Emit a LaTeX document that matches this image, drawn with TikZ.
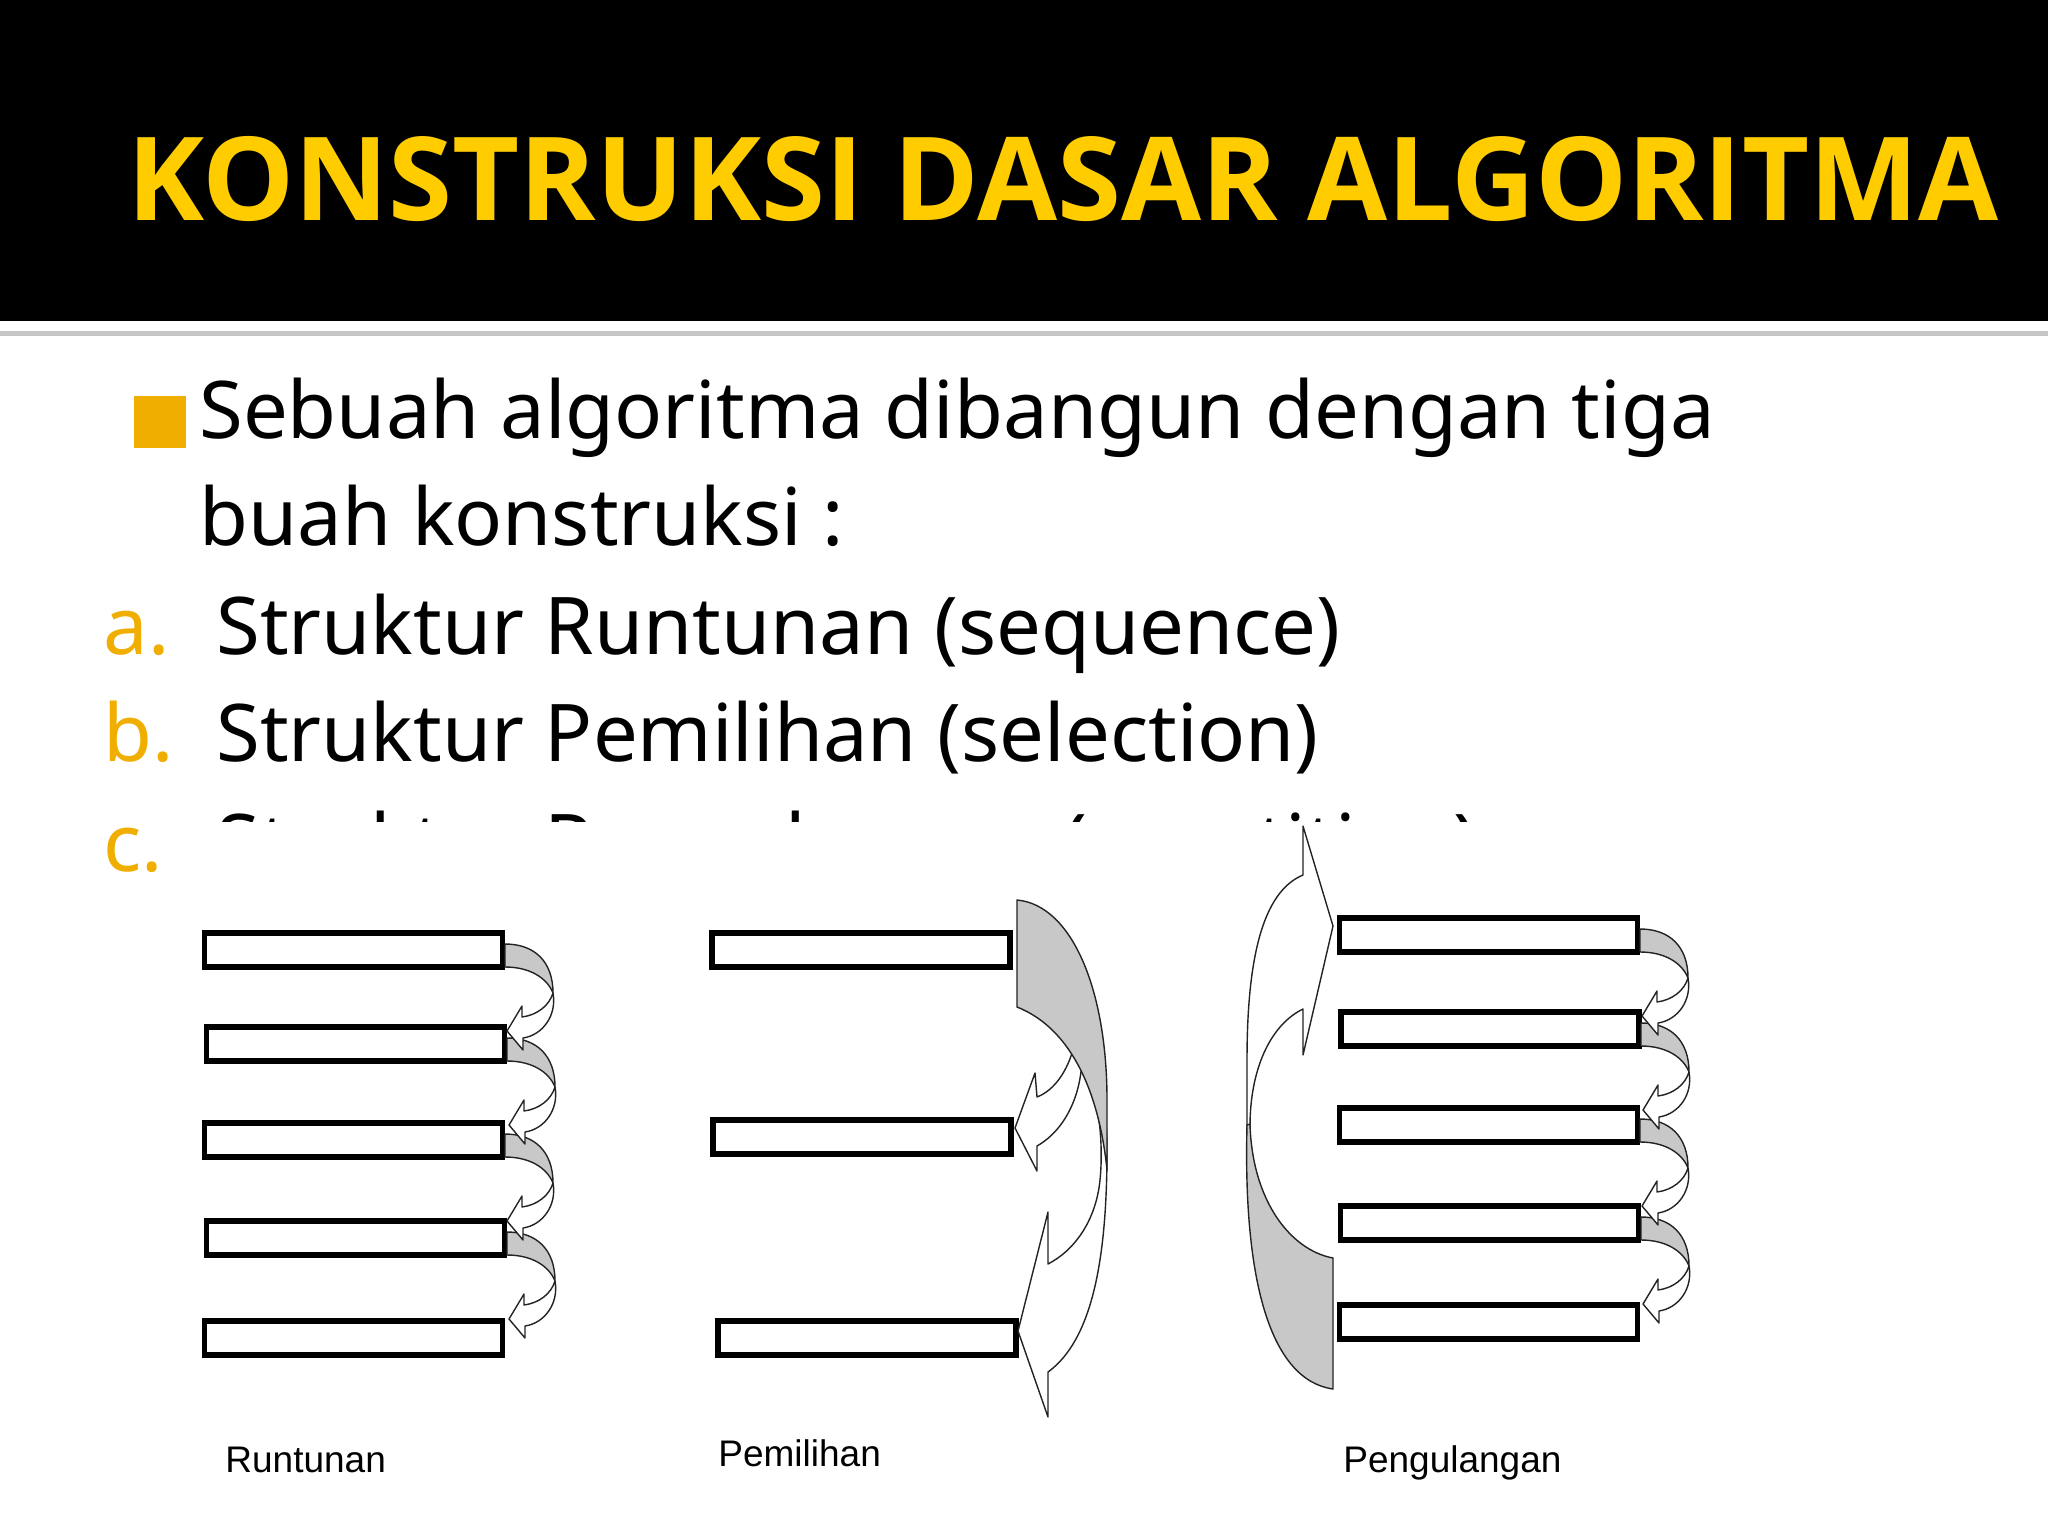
\documentclass[tikz,border=0pt]{standalone}
\usepackage{fontspec}
\setmainfont{Noto Sans}
\newfontfamily\titlefont{Open Sans}
\newfontfamily\lblfont{Liberation Sans}
\definecolor{titleyellow}{RGB}{255,204,0}
\definecolor{markyellow}{RGB}{240,175,0}
\definecolor{arrowgray}{RGB}{200,200,200}
\definecolor{edgegray}{RGB}{35,35,35}
\tikzset{
  flowbox/.style={draw=black, line width=2.7pt, fill=white, minimum width=149pt, minimum height=17pt, inner sep=0pt},
  backface/.style={fill=arrowgray, draw=edgegray, line width=0.7pt, line join=round},
  frontface/.style={fill=white, draw=edgegray, line width=0.7pt, line join=round},
  bodytext/.style={anchor=base west, inner sep=0pt, font=\fontsize{39.8}{48}\selectfont},
  marktext/.style={bodytext, text=markyellow},
  caption/.style={anchor=base west, inner sep=0pt, font=\lblfont\fontsize{18.5}{20}\selectfont},
}
\newcommand\smallcurve[2]{%
  \begin{scope}[shift={(#1,#2)}]
    \path[frontface] (48,63) .. controls (52,85) and (38,105) .. (18,108) -- (18,120) -- (2,101) -- (17,76) -- (17,87) .. controls (32,85) and (44,76) .. (48,63) -- cycle;
    \path[backface] (0,14) .. controls (30,14) and (48,32) .. (48,63) .. controls (42,48) and (25,37) .. (0,37) -- cycle;
  \end{scope}}
\begin{document}
\begin{tikzpicture}[x=0.5pt, y=-0.5pt]
\useasboundingbox (0,0) rectangle (2048,1536);
\fill[white] (0,0) rectangle (2048,1536);
% title band
\fill[black] (0,0) rectangle (2048,321);
\fill[gray!45] (0,331) rectangle (2048,336);
\node[anchor=base west, inner sep=0pt, text=titleyellow, font=\titlefont\bfseries\fontsize{58}{60}\selectfont] (title) at (127,220) {KONSTRUKSI DASAR ALGORITMA};
% bullet text
\fill[markyellow] (134,396) rectangle (186,448);
\node[bodytext] (l1) at (199,438) {Sebuah algoritma dibangun dengan tiga};
\node[bodytext] (l2) at (199,545) {buah konstruksi :};
\node[marktext] (ma) at (103,654) {a.};
\node[bodytext] (la) at (216,654) {Struktur Runtunan (sequence)};
\node[marktext] (mb) at (103,761) {b.};
\node[bodytext] (lb) at (216,761) {Struktur Pemilihan (selection)};
\node[marktext] (mc) at (103,871) {c.};
\node[bodytext] (lc) at (216,871) {Struktur Pengulangan (repetition)};
% picture area covering the last line
\fill[white] (165,822) rectangle (1760,1536);
% ---------- Runtunan ----------
\node[flowbox] (r1) at (353.5,950) {};
\node[flowbox] (r2) at (355.5,1044) {};
\node[flowbox] (r3) at (353.5,1140) {};
\node[flowbox] (r4) at (355.5,1238) {};
\node[flowbox] (r5) at (353.5,1338) {};
\smallcurve{507}{1218}
\smallcurve{505}{1120}
\smallcurve{507}{1024}
\smallcurve{505}{930}
% ---------- Pemilihan ----------
\node[flowbox] (p1) at (861,950) {};
\node[flowbox] (p2) at (862,1137) {};
\node[flowbox] (p3) at (867,1338) {};
\path[frontface] (1080,1048) .. controls (1098,1088) and (1104,1140) .. (1100,1180) .. controls (1096,1220) and (1075,1250) .. (1048,1264) -- (1048,1212) -- (1018,1331) -- (1048,1417) -- (1048,1372) .. controls (1092,1340) and (1107,1260) .. (1107,1150) .. controls (1107,1100) and (1097,1070) .. (1080,1048) -- cycle;
\path[frontface] (1074,1046) .. controls (1068,1070) and (1055,1090) .. (1037,1097) -- (1035,1073) -- (1015,1128) -- (1037,1171) -- (1037,1146) .. controls (1065,1130) and (1082,1095) .. (1082,1055) -- cycle;
\path[backface] (1017,900) .. controls (1072,905) and (1107,990) .. (1107,1100) -- (1107,1170) .. controls (1100,1100) and (1075,1030) .. (1017,1007) -- cycle;
% ---------- Pengulangan ----------
\node[flowbox] (q1) at (1488.5,935) {};
\node[flowbox] (q2) at (1490,1029) {};
\node[flowbox] (q3) at (1488.5,1125) {};
\node[flowbox] (q4) at (1489.5,1223) {};
\node[flowbox] (q5) at (1488.5,1322) {};
\smallcurve{1641}{1203}
\smallcurve{1640}{1105}
\smallcurve{1641}{1009}
\smallcurve{1640}{915}
\path[frontface] (1303,875) -- (1303,826) -- (1333,926) -- (1303,1055) -- (1303,1009) .. controls (1270,1025) and (1250,1070) .. (1250,1126) -- (1247,1130) -- (1247,1060) .. controls (1247,960) and (1262,892) .. (1303,875) -- cycle;
\path[backface] (1247,1125) .. controls (1243,1280) and (1270,1380) .. (1333,1389) -- (1333,1258) .. controls (1290,1250) and (1252,1200) .. (1250,1124) -- cycle;
% captions
\node[caption] (cr) at (225,1472) {Runtunan};
\node[caption] (cp) at (718,1466) {Pemilihan};
\node[caption] (cq) at (1343,1472) {Pengulangan};
\end{tikzpicture}
\end{document}
